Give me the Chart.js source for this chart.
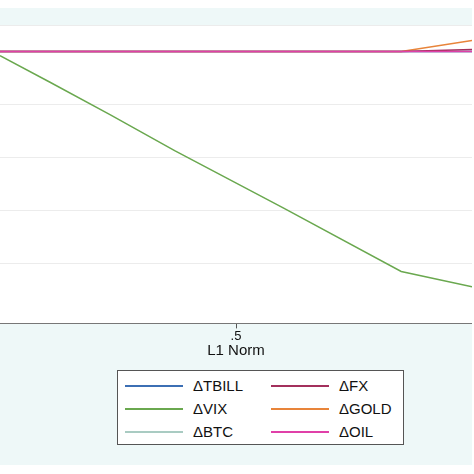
<!DOCTYPE html>
<html><head><meta charset="utf-8">
<script src="https://cdn.jsdelivr.net/npm/chart.js@4"></script>
<style>
body{margin:0;background:#fff;width:474px;height:474px;overflow:hidden;font-family:"Liberation Sans",Arial,sans-serif}
#wrap{position:absolute;left:0;top:8px;width:472px;height:457px;background:#eef8f8}
#cv{position:absolute;left:0;top:0}
#leg{position:absolute;left:117px;top:362px;width:287px;height:75px;border:1px solid #555;background:#fff;box-sizing:border-box}
.it{position:absolute;font-size:15px;color:#111;line-height:16px}
.ln{position:absolute;height:2px;width:58px}
</style></head><body>
<div id="wrap"><canvas id="cv" width="472" height="352"></canvas><div id="leg"></div></div>
<script>
const seriesNames=["ΔTBILL","ΔFX","ΔVIX","ΔGOLD","ΔBTC","ΔOIL"];
const seriesColors=["#3c6fb4","#a3305c","#6aa84f","#e8843a","#a9cbc2","#e040a8"];
const xTBILL=[0,1], yTBILL=[0,0];
const xFX=[0,0.85,1], yFX=[0,0,0.04];
const xVIX=[0,0.106,0.233,0.37,0.6,0.85,1], yVIX=[-0.08,-0.58,-1.19,-1.87,-2.95,-4.15,-4.44];
const xGOLD=[0,0.85,1], yGOLD=[0,0,0.21];
const xBTC=[0,1], yBTC=[0,0];
const xOIL=[0,1], yOIL=[0,0];
const xs=[xTBILL,xFX,xVIX,xGOLD,xBTC,xOIL], ys=[yTBILL,yFX,yVIX,yGOLD,yBTC,yOIL];
const xTickLabel=".5";
const order=[5,1,3,2,0,4];
const datasets=order.map(i=>({label:seriesNames[i],data:xs[i].map((x,k)=>({x:x,y:ys[i][k]})),borderColor:seriesColors[i],borderWidth:1.5,pointRadius:0,tension:0}));
const bg={id:'bg',beforeDraw(c){const a=c.chartArea,g=c.ctx;g.save();g.fillStyle='#fff';g.fillRect(a.left,a.top,a.right-a.left,a.bottom-a.top);g.restore();}};
new Chart(document.getElementById('cv'),{type:'line',data:{datasets},plugins:[bg],
options:{responsive:false,animation:false,layout:{padding:{top:17,left:0,right:0}},
plugins:{legend:{display:false},tooltip:{enabled:false}},
scales:{x:{type:'linear',min:0,max:1,border:{color:'#777'},
 grid:{drawOnChartArea:false,tickLength:5,color:c=>c.tick&&c.tick.value===0.5?'#555':'rgba(0,0,0,0)'},
 ticks:{stepSize:0.5,padding:0,color:'#111',font:{size:13,family:'Liberation Sans'},callback:v=>v===0.5?xTickLabel:''},
 title:{display:true,text:'L1 Norm',color:'#111',padding:{top:-2,bottom:0},font:{size:15,family:'Liberation Sans'}}},
 y:{min:-5.13,max:0.5,afterFit:s=>{s.width=0},border:{display:false},grid:{color:c=>c.tick.value===0?'rgba(0,0,0,0)':'#ececec',drawTicks:false},ticks:{display:false,stepSize:1}}}}});
const leg=document.getElementById('leg');
seriesNames.forEach((n,i)=>{const col=i%2,row=Math.floor(i/2);
 const l=document.createElement('div');l.className='ln';l.style.background=seriesColors[i];l.style.left=(7+col*146)+'px';l.style.top=(14+row*23)+'px';leg.appendChild(l);
 const t=document.createElement('div');t.className='it';t.textContent=n;t.style.left=(75+col*146)+'px';t.style.top=(7+row*23)+'px';leg.appendChild(t);});
</script></body></html>
